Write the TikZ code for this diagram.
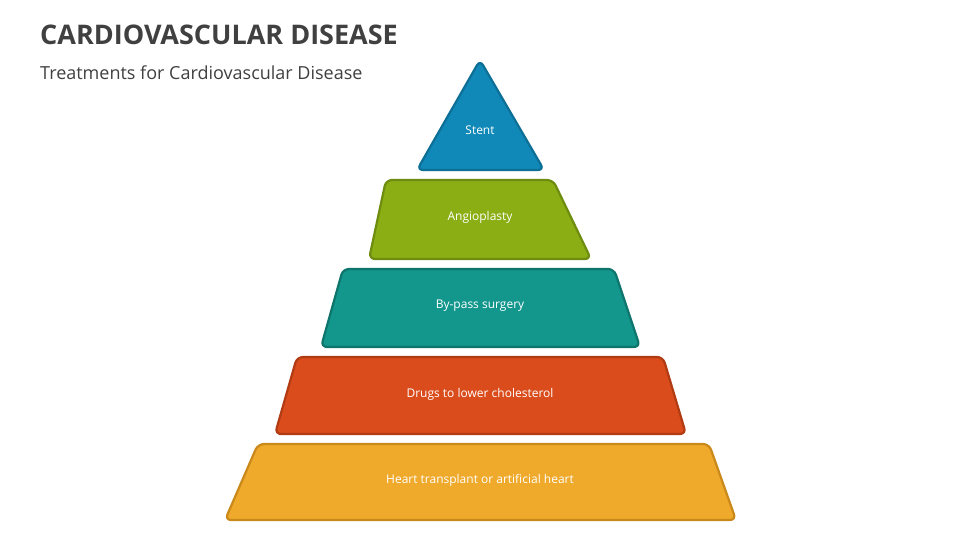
\documentclass[tikz,border=0pt]{standalone}
\usepackage{fontspec}
\setmainfont{Open Sans}
\begin{document}
\begin{tikzpicture}[x=1pt,y=-1pt,
  lvl/.style={line width=2.2pt,rounded corners=6pt,line join=round},
  lbl/.style={text=white,font=\fontsize{12}{14}\selectfont}]
\useasboundingbox[fill=white] (0,0) rectangle (960,540);
\definecolor{c1}{HTML}{1089B8}\definecolor{b1}{HTML}{0D6F96}
\definecolor{c2}{HTML}{8BAE14}\definecolor{b2}{HTML}{6E8C0F}
\definecolor{c3}{HTML}{13968C}\definecolor{b3}{HTML}{0E756D}
\definecolor{c4}{HTML}{DA4C1C}\definecolor{b4}{HTML}{B13B13}
\definecolor{c5}{HTML}{EFA92B}\definecolor{b5}{HTML}{CA8A1B}
\definecolor{tt}{HTML}{404040}
\node[anchor=base west,text=tt,font=\bfseries\fontsize{27}{30}\selectfont,inner sep=0] (title) at (40,45) {CARDIOVASCULAR DISEASE};
\node[anchor=base west,text=tt,font=\fontsize{18}{20}\selectfont,inner sep=0] (sub) at (40,80) {Treatments for Cardiovascular Disease};
\draw[lvl,fill=c1,draw=b1] (480,60) -- (544,170) -- (417,170) -- cycle;
\node[lbl] (s1) at (480,130) {Stent};
\draw[lvl,fill=c2,draw=b2] (386,180) -- (553,180) -- (591,259) -- (369,259) -- cycle;
\node[lbl] (s2) at (480,217) {Angioplasty};
\draw[lvl,fill=c3,draw=b3] (343,269) -- (614,269) -- (640,347) -- (321,347) -- cycle;
\node[lbl] (s3) at (480,306) {By-pass surgery};
\draw[lvl,fill=c4,draw=b4] (297,357) -- (663,357) -- (686,434) -- (275,434) -- cycle;
\node[lbl] (s4) at (480,394) {Drugs to lower cholesterol};
\draw[lvl,fill=c5,draw=b5] (258,444) -- (709,444) -- (736,520) -- (225,520) -- cycle;
\node[lbl] (s5) at (480,480) {Heart transplant or artificial heart};
\end{tikzpicture}
\end{document}
